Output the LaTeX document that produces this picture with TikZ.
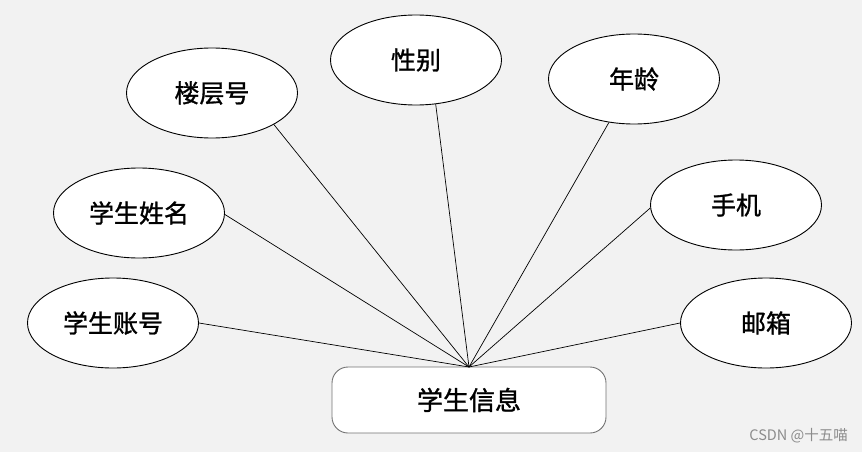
\documentclass[tikz,border=0pt]{standalone}
\usepackage{fontspec}
\newfontfamily\cjk[FakeBold=1.2]{Noto Sans CJK SC}
\newfontfamily\cjkmark{Noto Sans CJK SC}
\usetikzlibrary{shapes.geometric}
\definecolor{bg}{HTML}{F2F2F2}
\begin{document}
\begin{tikzpicture}[x=1pt,y=-1pt,
  attr/.style={ellipse,draw=black,line width=0.9pt,fill=white,minimum width=171pt,minimum height=90pt,inner sep=0pt,font=\cjk\fontsize{25}{25}\selectfont},
  entity/.style={rectangle,rounded corners=16pt,draw=black!55,line width=0.9pt,fill=white,minimum width=274pt,minimum height=66pt,inner sep=0pt,font=\cjk\fontsize{26}{26}\selectfont},
  link/.style={draw=black,line width=0.7pt}]
\fill[bg] (0,0) rectangle (862,452);
\useasboundingbox (0,0) rectangle (862,452);
\node[entity] (info) at (469,400) {学生信息};
\coordinate (hub) at (469,367);
\node[attr] (lc) at (212,93) {楼层号};
\node[attr] (xb) at (416,60) {性别};
\node[attr] (nl) at (634,79) {年龄};
\node[attr] (xm) at (139,213) {学生姓名};
\node[attr] (sj) at (736,205) {手机};
\node[attr] (zh) at (113,323) {学生账号};
\node[attr] (yx) at (766,323) {邮箱};
\draw[link] (lc.-27) -- (hub);
\draw[link] (xb.-66) -- (hub);
\draw[link] (nl.-120) -- (hub);
\draw[link] (xm.-1) -- (hub);
\draw[link] (sj.182) -- (hub);
\draw[link] (zh.0) -- (hub);
\draw[link] (yx.180) -- (hub);
\node[anchor=east,text=black!45,font=\cjkmark\fontsize{14.5}{14.5}\selectfont,inner sep=0pt] (wm) at (848,436) {CSDN @十五喵};
\end{tikzpicture}
\end{document}
